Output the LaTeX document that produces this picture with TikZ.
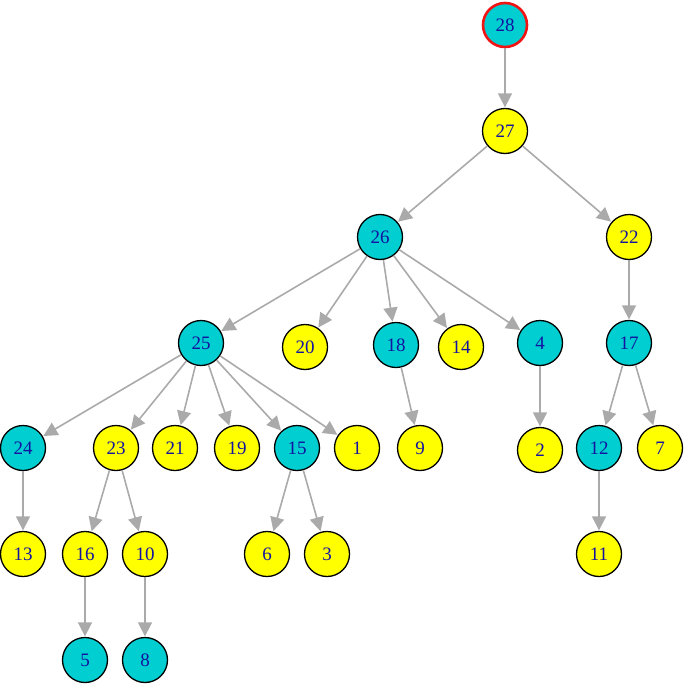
\documentclass[tikz,border=0pt]{standalone}
\usepackage{fontspec}
\setmainfont{Liberation Serif}
\usetikzlibrary{arrows.meta}
\definecolor{cyanfill}{RGB}{0,206,209}
\definecolor{yellowfill}{RGB}{255,255,0}
\definecolor{labelblue}{RGB}{20,20,160}
\definecolor{edgegray}{RGB}{170,170,170}
\definecolor{rootred}{RGB}{240,20,20}
\tikzset{
  vtx/.style={circle, draw=black, line width=1.3pt, minimum size=45pt, inner sep=0pt,
    text=labelblue, font=\fontsize{19}{19}\selectfont},
  cy/.style={vtx, fill=cyanfill},
  ye/.style={vtx, fill=yellowfill},
  rootnode/.style={cy, draw=rootred, line width=2.6pt, minimum size=44pt},
  edge/.style={draw=edgegray, line width=1.6pt, -{Triangle[length=14pt,width=14pt]}, shorten >=0.5pt}
}
\begin{document}
\begin{tikzpicture}[x=1pt,y=-1pt]
\useasboundingbox (0,0) rectangle (685,685);
\node[rootnode] (n28) at (505,25) {28};
\node[ye] (n27) at (505,131) {27};
\node[cy] (n26) at (380,237) {26};
\node[ye] (n22) at (629,237) {22};
\node[cy] (n25) at (201,343) {25};
\node[ye] (n20) at (305,347) {20};
\node[cy] (n18) at (396,345) {18};
\node[ye] (n14) at (461,347) {14};
\node[cy] (n4) at (540,343) {4};
\node[cy] (n17) at (629,343) {17};
\node[cy] (n24) at (23,448) {24};
\node[ye] (n23) at (116,448) {23};
\node[ye] (n21) at (175,448) {21};
\node[ye] (n19) at (237,448) {19};
\node[cy] (n15) at (297,448) {15};
\node[ye] (n1) at (357,448) {1};
\node[ye] (n9) at (420,448) {9};
\node[ye] (n2) at (540,450) {2};
\node[cy] (n12) at (599,448) {12};
\node[ye] (n7) at (660,448) {7};
\node[ye] (n13) at (23,554) {13};
\node[ye] (n16) at (85,554) {16};
\node[ye] (n10) at (145,554) {10};
\node[ye] (n6) at (267,554) {6};
\node[ye] (n3) at (327,554) {3};
\node[ye] (n11) at (599,554) {11};
\node[cy] (n5) at (85,660) {5};
\node[cy] (n8) at (145,660) {8};
\foreach \a/\b in {28/27,27/26,27/22,26/25,26/20,26/18,26/14,26/4,22/17,
  25/24,25/23,25/21,25/19,25/15,25/1,18/9,4/2,17/12,17/7,
  24/13,23/16,23/10,15/6,15/3,12/11,16/5,10/8}
  \draw[edge] (n\a) -- (n\b);
\end{tikzpicture}
\end{document}
